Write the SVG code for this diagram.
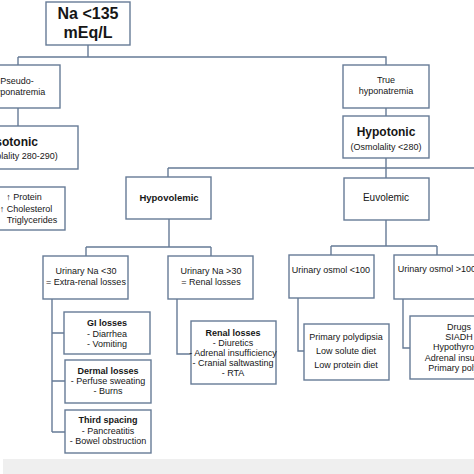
<svg xmlns="http://www.w3.org/2000/svg" width="474" height="474" viewBox="0 0 474 474">
<style>
rect.b{fill:#fff;stroke:#667b96;stroke-width:1.4}
.c path{fill:none;stroke:#667b96;stroke-width:1.4}
text{font-family:"Liberation Sans",Arial,sans-serif;fill:#161616;text-anchor:middle;font-size:9px}
.bd{font-weight:bold}
text.f16{font-size:16px}
text.f12{font-size:12px}
text.f10{font-size:10px}
text.f95{font-size:9.5px}
</style>
<rect x="0" y="0" width="474" height="474" fill="#fff"/>
<rect x="3" y="459" width="471" height="15" fill="#efefef"/>
<g class="c">
<path d="M88 45V57M18 57H386V65M18 57V65M18 108V126"/>
<path d="M386 108V116M386 158V168M168 168H474M168 168V177M386 168V178"/>
<path d="M169 219V247M86 247H211M86 247V256M211 247V256"/>
<path d="M52 299V432M52 333H64M52 381H65M52 432H65"/>
<path d="M177 299V354H191"/>
<path d="M386 220V246M331 246H437M331 246V255M437 246V255"/>
<path d="M298 298V351H304M403 299V348H410"/>
</g>
<g id="n-root"><rect class="b" x="46" y="2" width="84" height="43"/><text class="bd f16" x="88" y="19">Na &lt;135</text><text class="bd f16" x="88" y="38">mEq/L</text></g>
<g id="n-pseudo"><rect class="b" x="-24" y="65" width="84" height="43"/><text x="17" y="84">Pseudo-</text><text x="18" y="95">hyponatremia</text></g>
<g id="n-isotonic"><rect class="b" x="-56" y="126" width="134" height="43"/><text class="bd f12" x="15" y="146">Isotonic</text><text x="16" y="159">(Osmolality 280-290)</text></g>
<g id="n-protein"><rect class="b" x="-20" y="187" width="85" height="43"/><text x="24" y="200">↑ Protein</text><text x="26" y="212">↑ Cholesterol</text><text x="32" y="223">Triglycerides</text></g>
<g id="n-true"><rect class="b" x="343" y="65" width="86" height="43"/><text x="386" y="83">True</text><text x="386" y="94">hyponatremia</text></g>
<g id="n-hypotonic"><rect class="b" x="343" y="116" width="86" height="42"/><text class="bd f12" x="386" y="136">Hypotonic</text><text x="386" y="150">(Osmolality &lt;280)</text></g>
<g id="n-hypovolemic"><rect class="b" x="126" y="177" width="85" height="42"/><text class="bd f95" x="169" y="201">Hypovolemic</text></g>
<g id="n-euvolemic"><rect class="b" x="344" y="178" width="85" height="42"/><text class="f10" x="386" y="201">Euvolemic</text></g>
<g id="n-na-low"><rect class="b" x="43" y="256" width="85" height="43"/><text x="86" y="274">Urinary Na &lt;30</text><text x="86" y="285">= Extra-renal losses</text></g>
<g id="n-na-high"><rect class="b" x="168" y="256" width="85" height="43"/><text x="211" y="274">Urinary Na &gt;30</text><text x="211" y="285">= Renal losses</text></g>
<g id="n-gi"><rect class="b" x="64" y="312" width="86" height="42"/><text class="bd" x="107" y="326">GI losses</text><text x="107" y="337">- Diarrhea</text><text x="107" y="347">- Vomiting</text></g>
<g id="n-dermal"><rect class="b" x="65" y="360" width="86" height="43"/><text class="bd" x="108" y="374">Dermal losses</text><text x="108" y="384">- Perfuse sweating</text><text x="108" y="394">- Burns</text></g>
<g id="n-third"><rect class="b" x="65" y="410" width="86" height="43"/><text class="bd" x="108" y="423">Third spacing</text><text x="108" y="434">- Pancreatitis</text><text x="108" y="444">- Bowel obstruction</text></g>
<g id="n-renal"><rect class="b" x="191" y="321" width="85" height="63"/><text class="bd" x="233" y="336">Renal losses</text><text x="233" y="346">- Diuretics</text><text x="233" y="356">- Adrenal insufficiency</text><text x="233" y="366">- Cranial saltwasting</text><text x="233" y="376">- RTA</text></g>
<g id="n-osm-low"><rect class="b" x="289" y="255" width="85" height="43"/><text x="331" y="273">Urinary osmol &lt;100</text></g>
<g id="n-osm-high"><rect class="b" x="394" y="255" width="86" height="44"/><text x="437" y="272">Urinary osmol &gt;100</text></g>
<g id="n-polydipsia"><rect class="b" x="304" y="324" width="85" height="56"/><text x="346" y="340">Primary polydipsia</text><text x="346" y="354">Low solute diet</text><text x="346" y="368">Low protein diet</text></g>
<g id="n-siadh"><rect class="b" x="410" y="316" width="104" height="63"/><text x="459" y="330">Drugs</text><text x="459" y="340">SIADH</text><text x="464" y="350">Hypothyroidism</text><text x="466" y="361">Adrenal insufficiency</text><text x="465" y="371">Primary polydipsia</text></g>
</svg>
